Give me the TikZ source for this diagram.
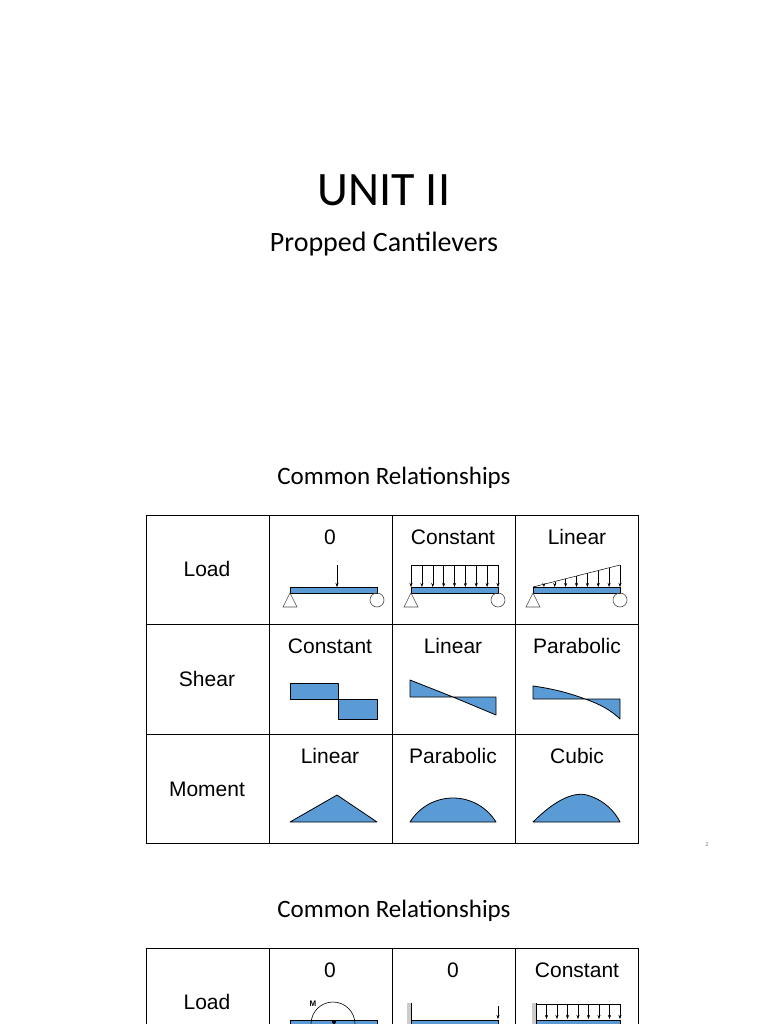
\documentclass[tikz,border=0pt]{standalone}
\usepackage{fontspec}
\setmainfont{Liberation Sans}
\newfontfamily\calib{Carlito}
\usetikzlibrary{arrows.meta}
\definecolor{bl}{RGB}{91,155,213}
\begin{document}
\begin{tikzpicture}[x=1pt,y=-1pt,
  cell/.style={font=\fontsize{21}{24}\selectfont},
  beam/.style={fill=bl,draw=black,line width=0.8pt},
  shp/.style={fill=bl,draw=black,line width=0.8pt,line join=round},
  ld/.style={-{Stealth[length=4pt,width=3pt]},line width=0.4pt},
  sup/.style={draw=black!70,line width=0.6pt}]
\useasboundingbox (0,0) rectangle (768,1024);
\clip (0,0) rectangle (768,1024);
\node[font=\calib\fontsize{48}{52}\selectfont] (t) at (384,190) {UNIT II};
\node[font=\calib\fontsize{28}{32}\selectfont] (s) at (384,244) {Propped Cantilevers};
\node[font=\calib\fontsize{25}{28}\selectfont] (c1) at (394,478) {Common Relationships};
\node[font=\calib\fontsize{25}{28}\selectfont] (c2) at (394,911) {Common Relationships};
\node[font=\calib\fontsize{6}{7}\selectfont,gray] (pg) at (707,845) {2};
% table 1 grid
\draw[line width=1pt] (146,515) rectangle (638,843);
\foreach \x in {269,392,515} \draw[line width=0.8pt] (\x,515) -- (\x,843);
\foreach \y in {624,734} \draw[line width=0.8pt] (146,\y) -- (638,\y);
\node[cell] (l1) at (207,569) {Load};
\node[cell] (l2) at (207,679) {Shear};
\node[cell] (l3) at (207,789) {Moment};
\node[cell] (a1) at (330,537) {0};
\node[cell] (a2) at (453,537) {Constant};
\node[cell] (a3) at (577,537) {Linear};
\node[cell] (b1) at (330,646) {Constant};
\node[cell] (b2) at (453,646) {Linear};
\node[cell] (b3) at (577,646) {Parabolic};
\node[cell] (m1) at (330,756) {Linear};
\node[cell] (m2) at (453,756) {Parabolic};
\node[cell] (m3) at (577,756) {Cubic};
% load cells
\foreach \o in {0,121,243}{
  \begin{scope}[shift={(\o,0)}]
  \draw[beam] (290,587) rectangle (377,593);
  \draw[sup] (290,593) -- (297,607) -- (283,607) -- cycle;
  \draw[sup] (377,600) circle (7);
  \end{scope}}
\draw[ld] (337,565) -- (337,587);
\draw[line width=0.5pt] (411,565) -- (498,565);
\foreach \i in {0,...,8} \draw[ld] ({411+\i*10.875},565) -- ({411+\i*10.875},587);
\draw[line width=0.5pt] (533,587) -- (620,565);
\foreach \i in {1,...,8} \draw[ld] ({533+\i*10.875},{587-\i*2.75}) -- ({533+\i*10.875},587);
% shear
\draw[shp] (290,683) rectangle (338,699);
\draw[shp] (338,699) rectangle (377,719);
\draw[shp] (410,680) -- (410,697) -- (453,697) -- cycle;
\draw[shp] (453,697) -- (496,697) -- (496,715) -- cycle;
\draw[shp] (533,686) .. controls (555,689) and (572,694) .. (585,699) -- (533,699) -- cycle;
\draw[shp] (585,699) .. controls (600,704) and (612,711) .. (620,719) -- (620,699) -- cycle;
% moment
\draw[shp] (290,822) -- (337,795) -- (377,822) -- cycle;
\draw[shp] (410,822) .. controls (430,790) and (476,790) .. (496,822) -- cycle;
\draw[shp] (533,822) .. controls (555,800) and (575,790) .. (590,796) .. controls (605,801) and (615,812) .. (620,822) -- cycle;
% table 2
\draw[line width=1pt] (146,948) -- (638,948);
\foreach \x in {146,269,392,515,638} \draw[line width=0.8pt] (\x,948) -- (\x,1030);
\node[cell] (l4) at (207,1002) {Load};
\node[cell] (d1) at (330,970) {0};
\node[cell] (d2) at (453,970) {0};
\node[cell] (d3) at (577,970) {Constant};
\draw[beam] (290,1020) rectangle (377,1030);
\draw[line width=0.6pt] (311,1024) arc (180:360:22);
\node[font=\fontsize{8}{9}\selectfont\bfseries] (mm) at (313,1004) {M};
\fill (334,1022) circle (2);
\fill[gray!40] (407,1003) rectangle (411,1030);
\draw[line width=1pt] (411,1003) -- (411,1030);
\draw[beam] (411,1020) rectangle (498,1030);
\draw[ld] (498,1006) -- (498,1019);
\fill[gray!40] (532,1003) rectangle (536,1030);
\draw[line width=1pt] (536,1003) -- (536,1030);
\draw[beam] (536,1020) rectangle (620,1030);
\draw[line width=0.5pt] (536,1004) -- (620,1004);
\foreach \i in {1,...,8} \draw[ld] ({536+\i*10.5},1004) -- ({536+\i*10.5},1019);
\end{tikzpicture}
\end{document}
